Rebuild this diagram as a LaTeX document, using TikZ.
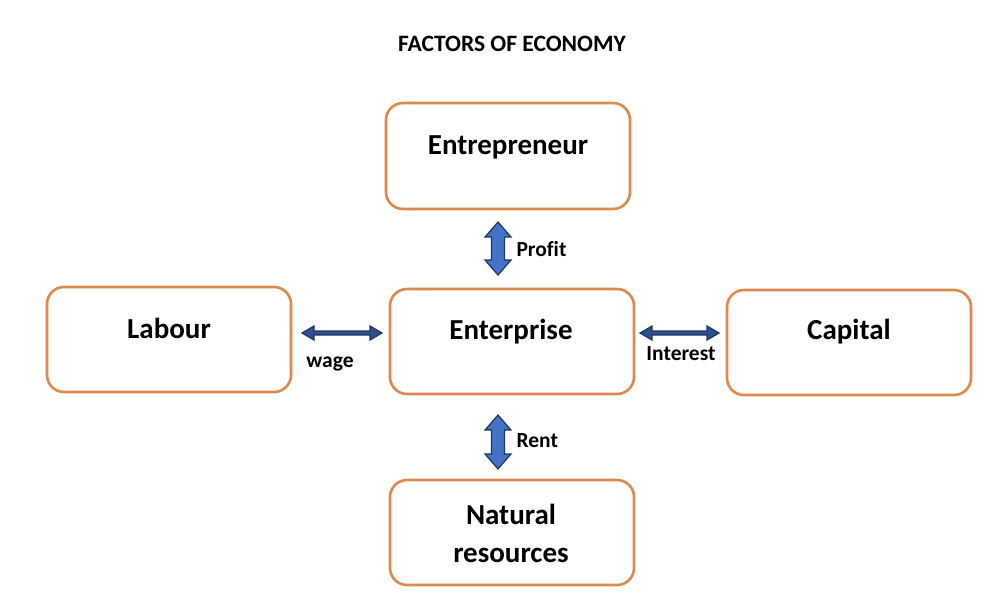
\documentclass[tikz,border=0pt]{standalone}
\usepackage{fontspec}
\setmainfont{Carlito}[Ligatures=NoCommon]
\begin{document}
\begin{tikzpicture}[x=1pt,y=-1pt,
  box/.style={draw=boxorange,line width=2.6pt,rounded corners=17pt,fill=white},
  boxtext/.style={font=\bfseries\fontsize{29}{38}\selectfont,align=center},
  lbl/.style={font=\bfseries\fontsize{21.5}{24}\selectfont},
  bigarrow/.style={fill=arrowblue,draw=arrowdark,line width=1.2pt,line join=miter},
  thinarrow/.style={fill=arrowmid,draw=arrowdark,line width=1.2pt,line join=miter}]
\definecolor{boxorange}{HTML}{DE8A4C}
\definecolor{arrowblue}{HTML}{4472C4}
\definecolor{arrowdark}{HTML}{1F3864}
\definecolor{arrowmid}{HTML}{2F4F8F}
\useasboundingbox (0,0) rectangle (1006,611);
\fill[white] (0,0) rectangle (1006,611);
\node[font=\bfseries\fontsize{23.5}{28}\selectfont] (title) at (512,44) {FACTORS OF ECONOMY};
% boxes
\draw[box] (386,103) rectangle (630,209);
\node[boxtext] (entr) at (508,147) {Entrepreneur};
\draw[box] (47,287) rectangle (291,392);
\node[boxtext] (lab) at (169,328) {Labour};
\draw[box] (390,289) rectangle (634,394);
\node[boxtext] (ente) at (511,332) {Enterprise};
\draw[box] (727,290) rectangle (971,395);
\node[boxtext] (cap) at (849,332) {Capital};
\draw[box] (390,480) rectangle (634,585);
\node[boxtext] (nat) at (511,533) {Natural\\resources};
% vertical block arrows
\foreach \yt/\yb in {222/275, 415/469}{
  \draw[bigarrow] (498,\yt) -- (511,\yt+15) -- (504.5,\yt+15) -- (504.5,\yb-15) -- (511,\yb-15)
    -- (498,\yb) -- (485,\yb-15) -- (491.5,\yb-15) -- (491.5,\yt+15) -- (485,\yt+15) -- cycle;
}
\node[lbl,anchor=west] (profit) at (513,249) {Profit};
\node[lbl,anchor=west] (rent) at (513,441) {Rent};
% horizontal thin arrows
\foreach \xl/\xr in {302/382, 640/719}{
  \draw[thinarrow] (\xl,333) -- (\xl+12,326) -- (\xl+12,331) -- (\xr-12,331) -- (\xr-12,326)
    -- (\xr,333) -- (\xr-12,340) -- (\xr-12,335) -- (\xl+12,335) -- (\xl+12,340) -- cycle;
}
\node[lbl] (wage) at (330,364) {wage};
\node[lbl] (interest) at (681,354) {Interest};
\end{tikzpicture}
\end{document}
